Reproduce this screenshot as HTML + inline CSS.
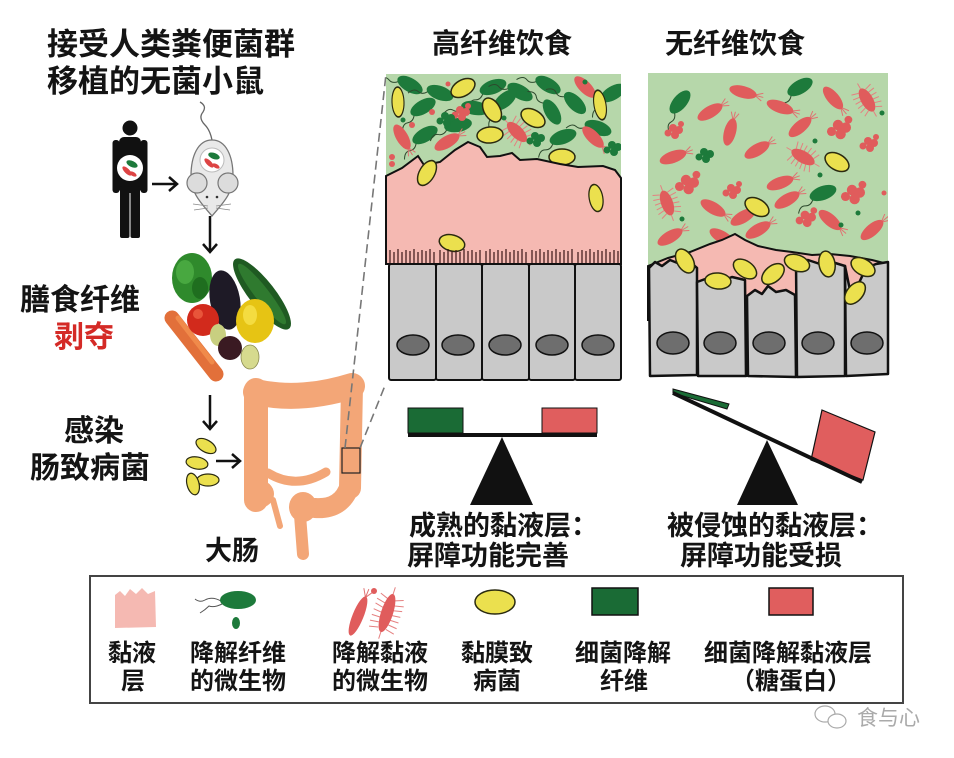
<!DOCTYPE html>
<html><head><meta charset="utf-8">
<style>
html,body{margin:0;padding:0;background:#fff;}
svg{display:block;}
text{font-family:"Liberation Sans","Noto Sans CJK SC",sans-serif;font-weight:bold;fill:#141414;}
</style></head><body>
<svg width="954" height="758" viewBox="0 0 954 758" xmlns="http://www.w3.org/2000/svg">
<defs>
  <g id="gb">
    <path d="M-12 3 q-4 5 -9 3 t-9 5" stroke="#2d4a2d" stroke-width="1" fill="none"/>
    <ellipse cx="0" cy="0" rx="14" ry="7" fill="#1d7a3b"/>
  </g>
  <g id="rb">
    <path d="M12 0 l8 -4 M12 0 l9 0 M12 0 l8 4" stroke="#e07272" stroke-width="1" fill="none"/>
    <ellipse cx="0" cy="0" rx="14" ry="6" fill="#e05c5c"/>
  </g>
  <g id="rc">
    <path d="M-10 -4 l-2 -7 M-6 -5 l-1 -7 M-2 -5 l0 -7 M2 -5 l1 -7 M6 -5 l2 -7 M10 -4 l3 -6 M-10 4 l-2 7 M-6 5 l-1 7 M-2 5 l0 7 M2 5 l1 7 M6 5 l2 7 M10 4 l3 6 M13 0 l6 0 M-13 0 l-6 0" stroke="#e58080" stroke-width="1" fill="none"/>
    <ellipse cx="0" cy="0" rx="13" ry="6" fill="#e05c5c"/>
  </g>
  <g id="yb"><ellipse cx="0" cy="0" rx="13" ry="8" fill="#ebe04e" stroke="#2a2a10" stroke-width="1.5"/></g>
  <g id="rcl"><circle cx="0" cy="0" r="4" fill="#e05c5c"/><circle cx="6" cy="2" r="4" fill="#e05c5c"/><circle cx="2" cy="7" r="4" fill="#e05c5c"/><circle cx="-5" cy="5" r="3.5" fill="#e05c5c"/><circle cx="8" cy="-4" r="3" fill="#e05c5c"/></g>
  <g id="gcl"><circle cx="0" cy="0" r="4" fill="#1d7a3b"/><circle cx="6" cy="2" r="4" fill="#1d7a3b"/><circle cx="2" cy="7" r="4" fill="#1d7a3b"/><circle cx="-5" cy="5" r="3.5" fill="#1d7a3b"/></g>
  <clipPath id="c1"><rect x="386" y="74" width="235" height="190"/></clipPath>
  <clipPath id="c2"><rect x="648" y="73" width="240" height="230"/></clipPath>
</defs>

<!-- Left titles -->
<text x="47" y="55" font-size="31">接受人类粪便菌群</text>
<text x="47" y="92" font-size="31">移植的无菌小鼠</text>

<!-- Human -->
<g fill="#111">
  <circle cx="130" cy="128" r="7.5"/>
  <rect x="119" y="137" width="22" height="56" rx="5"/>
  <rect x="112.5" y="140" width="7" height="53" rx="3"/>
  <rect x="140.5" y="140" width="7" height="53" rx="3"/>
  <rect x="120" y="186" width="9.5" height="52" rx="2"/>
  <rect x="130.5" y="186" width="9.5" height="52" rx="2"/>
</g>
<circle cx="130" cy="168" r="13" fill="#fff"/>
<ellipse cx="132" cy="164" rx="6" ry="3" fill="#1d7a3b" transform="rotate(25 132 164)"/>
<ellipse cx="127" cy="171" rx="6" ry="2.5" fill="#d44" transform="rotate(45 127 171)"/>
<ellipse cx="133" cy="174" rx="4" ry="2" fill="#d44" transform="rotate(30 133 174)"/>

<!-- arrow human -> mouse -->
<line x1="152" y1="184" x2="176" y2="184" stroke="#111" stroke-width="2.5"/>
<polyline points="169,177 177,184 169,191" fill="none" stroke="#111" stroke-width="2.5"/>

<!-- Mouse -->
<path d="M212 140 Q 210 130 205 125 Q 198 118 203 112 Q 207 106 200 102" stroke="#666" stroke-width="1.3" fill="none"/>
<path d="M212 140 C 226 140 233 156 233 176 C 233 194 222 204 212 216 C 202 204 191 194 191 176 C 191 156 198 140 212 140 Z" fill="#e9e9e9" stroke="#777" stroke-width="1.3"/>
<circle cx="197" cy="183" r="10" fill="#dcdcdc" stroke="#777" stroke-width="1.2"/>
<circle cx="228" cy="183" r="10" fill="#dcdcdc" stroke="#777" stroke-width="1.2"/>
<circle cx="212" cy="160" r="12" fill="#fff" stroke="#bbb" stroke-width="1"/>
<ellipse cx="214" cy="156" rx="6" ry="3" fill="#1d7a3b" transform="rotate(20 214 156)"/>
<ellipse cx="209" cy="163" rx="6" ry="2.5" fill="#d44" transform="rotate(45 209 163)"/>
<ellipse cx="216" cy="166" rx="4" ry="2" fill="#d44" transform="rotate(30 216 166)"/>
<circle cx="207" cy="197" r="1.3" fill="#333"/><circle cx="217" cy="197" r="1.3" fill="#333"/>
<path d="M208 206 L193 204 M208 208 L194 210 M216 206 L231 204 M216 208 L230 210" stroke="#888" stroke-width="0.8"/>

<!-- arrow mouse -> veg -->
<line x1="210" y1="216" x2="210" y2="251" stroke="#111" stroke-width="2.5"/>
<polyline points="203,244 210,252 217,244" fill="none" stroke="#111" stroke-width="2.5"/>

<!-- Vegetables -->
<ellipse cx="262" cy="294" rx="44" ry="13" fill="#1f5a22" transform="rotate(52 262 294)"/>
<ellipse cx="262" cy="294" rx="38" ry="7" fill="#2f7a2f" transform="rotate(52 262 294)"/>
<ellipse cx="192" cy="278" rx="20" ry="25" fill="#2f8a2c"/>
<ellipse cx="185" cy="272" rx="9" ry="12" fill="#48a840"/>
<ellipse cx="200" cy="288" rx="8" ry="11" fill="#1f6e1f"/>
<ellipse cx="225" cy="300" rx="15" ry="30" fill="#1e1a26" transform="rotate(-10 225 300)"/>
<ellipse cx="255" cy="321" rx="19" ry="22" fill="#e6c414"/>
<ellipse cx="250" cy="315" rx="7" ry="10" fill="#f4dc40"/>
<line x1="172" y1="318" x2="216" y2="374" stroke="#e2703a" stroke-width="15" stroke-linecap="round"/>
<line x1="178" y1="318" x2="212" y2="362" stroke="#f08a4a" stroke-width="5" stroke-linecap="round"/>
<circle cx="203" cy="320" r="16" fill="#d22a1c"/>
<circle cx="198" cy="314" r="5" fill="#e8553a"/>
<ellipse cx="218" cy="335" rx="8" ry="11" fill="#c8cf80"/>
<circle cx="230" cy="348" r="12" fill="#3a1a22"/>
<ellipse cx="250" cy="357" rx="9" ry="12" fill="#d6da8e" stroke="#8a8a50" stroke-width="0.8"/>

<text x="20" y="310" font-size="30">膳食纤维</text>
<text x="54" y="347" font-size="30" style="fill:#d42a26">剥夺</text>

<!-- arrow veg -> pathogens -->
<line x1="210" y1="395" x2="210" y2="428" stroke="#111" stroke-width="2.5"/>
<polyline points="203,421 210,429 217,421" fill="none" stroke="#111" stroke-width="2.5"/>

<text x="64" y="441" font-size="30">感染</text>
<text x="30" y="478" font-size="30">肠致病菌</text>

<!-- pathogens -->
<g fill="#ebe04e" stroke="#2a2a10" stroke-width="1.2">
  <ellipse cx="206" cy="446" rx="11" ry="6" transform="rotate(30 206 446)"/>
  <ellipse cx="197" cy="463" rx="11" ry="6" transform="rotate(10 197 463)"/>
  <ellipse cx="208" cy="480" rx="11" ry="6"/>
  <ellipse cx="193" cy="484" rx="6" ry="11" transform="rotate(-15 193 484)"/>
</g>
<line x1="216" y1="461" x2="239" y2="461" stroke="#111" stroke-width="2.5"/>
<polyline points="232,454 240,461 232,468" fill="none" stroke="#111" stroke-width="2.5"/>

<!-- Colon -->
<g fill="none" stroke="#f3a677" stroke-linecap="round" stroke-linejoin="round">
  <path d="M256 390 L256 500" stroke-width="24"/>
  <path d="M256 392 Q 300 402 352 386" stroke-width="26"/>
  <path d="M352 386 L350 488" stroke-width="22"/>
  <path d="M350 485 Q 342 510 315 508" stroke-width="20"/>
  <path d="M300 515 L303 554" stroke-width="12"/>
  <path d="M268 473 Q 296 490 326 472" stroke-width="9"/>
  <path d="M273 500 L280 526" stroke-width="6"/>
</g>
<ellipse cx="259" cy="494" rx="15" ry="14" fill="#f3a677"/>
<ellipse cx="303" cy="507" rx="14" ry="15" fill="#f3a677"/>
<rect x="342" y="448" width="18" height="25" fill="none" stroke="#222" stroke-width="1.2"/>
<text x="205" y="560" font-size="27">大肠</text>

<!-- dashed connectors -->
<line x1="345" y1="448" x2="386" y2="74" stroke="#777" stroke-width="1.6" stroke-dasharray="9 5"/>
<line x1="360" y1="448" x2="386" y2="383" stroke="#777" stroke-width="1.6" stroke-dasharray="9 5"/>

<!-- Titles -->
<text x="432" y="53" font-size="28">高纤维饮食</text>
<text x="665" y="53" font-size="28">无纤维饮食</text>

<!-- PANEL 1 : high fiber -->
<rect x="386" y="74" width="235" height="120" fill="#b6d7aa"/>
<g clip-path="url(#c1)">
  <use href="#gb" transform="translate(410 85) rotate(30)"/>
  <use href="#gb" transform="translate(440 93) rotate(20)"/>
  <use href="#gb" transform="translate(493 87) rotate(-20)"/>
  <use href="#gb" transform="translate(520 92) rotate(30)"/>
  <use href="#gb" transform="translate(548 85) rotate(30)"/>
  <use href="#gb" transform="translate(613 93) rotate(-30)"/>
  <use href="#gb" transform="translate(423 107) rotate(-30)"/>
  <use href="#gb" transform="translate(425 135) rotate(-30)"/>
  <use href="#gb" transform="translate(475 108) rotate(10)"/>
  <use href="#gb" transform="translate(552 112) rotate(60)"/>
  <use href="#gb" transform="translate(575 103) rotate(45)"/>
  <use href="#gb" transform="translate(563 137) rotate(-20)"/>
  <use href="#gb" transform="translate(505 100) rotate(-40)"/>
  <use href="#gb" transform="translate(458 125) rotate(-10)"/>
  <use href="#gb" transform="translate(598 128) rotate(20)"/>
  <use href="#rb" transform="translate(402 137) rotate(60)"/>
  <use href="#rb" transform="translate(447 142) rotate(-30)"/>
  <use href="#rc" transform="translate(517 132) rotate(45)"/>
  <use href="#rb" transform="translate(585 87) rotate(45)"/>
  <use href="#rb" transform="translate(593 137) rotate(45)"/>
  <use href="#rcl" transform="translate(460 110)"/>
  <circle cx="432" cy="112" r="3" fill="#e05c5c"/>
  <circle cx="412" cy="125" r="3" fill="#e05c5c"/>
  <circle cx="392" cy="157" r="3" fill="#e05c5c"/>
  <circle cx="392" cy="164" r="3" fill="#e05c5c"/>
  <circle cx="448" cy="84" r="2.5" fill="#e05c5c"/>
  <use href="#gcl" transform="translate(445 116)"/>
  <use href="#gcl" transform="translate(535 136)"/>
  <use href="#gcl" transform="translate(612 145)"/>
  <circle cx="403" cy="120" r="2.5" fill="#1d7a3b"/>
  <circle cx="585" cy="82" r="2.5" fill="#1d7a3b"/>
  <circle cx="504" cy="118" r="2.5" fill="#1d7a3b"/>
  <use href="#yb" transform="translate(398 102) rotate(88) scale(1.15 0.75)"/>
  <use href="#yb" transform="translate(463 88) rotate(-30)"/>
  <use href="#yb" transform="translate(492 110) rotate(60)"/>
  <use href="#yb" transform="translate(533 118) rotate(30)"/>
  <use href="#yb" transform="translate(490 135) rotate(-5)"/>
  <use href="#yb" transform="translate(562 157)"/>
  <use href="#yb" transform="translate(600 105) rotate(80) scale(1.15 0.75)"/>
</g>
<path d="M386 176 L402 168 L418 156 L424 165 L440 162 L455 150 L468 142 L480 147 L487 157 L500 156 L512 153 L520 160 L537 159 L560 164 L578 167 L603 166 L615 170 L621 178 L621 264 L386 264 Z" fill="#f5b9b2" stroke="#111" stroke-width="2"/>
<use href="#yb" transform="translate(427 173) rotate(-60) scale(1.05 0.95)"/>
<use href="#yb" transform="translate(596 198) rotate(80) scale(1.05 0.85)"/>
<use href="#yb" transform="translate(452 243) rotate(15)"/>
<g stroke="#3a1616" stroke-width="1.2">
  <path d="M390 264 V250 M394 264 V252 M398 264 V249 M402 264 V252 M406 264 V250 M410 264 V251 M414 264 V249 M418 264 V252 M422 264 V250 M426 264 V251 M430 264 V249 M434 264 V252 M440 264 V250 M444 264 V252 M448 264 V249 M452 264 V251 M456 264 V250 M460 264 V252 M464 264 V249 M468 264 V251 M472 264 V250 M476 264 V252 M480 264 V250 M486 264 V251 M490 264 V249 M494 264 V252 M498 264 V250 M502 264 V251 M506 264 V249 M510 264 V252 M514 264 V250 M518 264 V251 M522 264 V249 M526 264 V252 M532 264 V250 M536 264 V251 M540 264 V249 M544 264 V252 M548 264 V250 M552 264 V251 M556 264 V249 M560 264 V252 M564 264 V250 M568 264 V251 M572 264 V249 M578 264 V252 M582 264 V250 M586 264 V251 M590 264 V249 M594 264 V252 M598 264 V250 M602 264 V251 M606 264 V249 M610 264 V252 M614 264 V250 M618 264 V251"/>
</g>
<g fill="#c9c9c9" stroke="#111" stroke-width="2">
  <rect x="389" y="264" width="47" height="116" rx="2"/>
  <rect x="436" y="264" width="46" height="116" rx="2"/>
  <rect x="482" y="264" width="47" height="116" rx="2"/>
  <rect x="529" y="264" width="46" height="116" rx="2"/>
  <rect x="575" y="264" width="46" height="116" rx="2"/>
</g>
<g fill="#6e6e6e" stroke="#111" stroke-width="1.5">
  <ellipse cx="413" cy="345" rx="16" ry="10"/>
  <ellipse cx="458" cy="345" rx="16" ry="10"/>
  <ellipse cx="505" cy="345" rx="16" ry="10"/>
  <ellipse cx="552" cy="345" rx="16" ry="10"/>
  <ellipse cx="598" cy="345" rx="16" ry="10"/>
</g>

<!-- PANEL 2 : no fiber -->
<rect x="648" y="73" width="240" height="200" fill="#b6d7aa"/>
<g clip-path="url(#c2)">
  <use href="#gb" transform="translate(680 102) rotate(-50)"/>
  <use href="#gb" transform="translate(800 87) rotate(-30)"/>
  <use href="#gb" transform="translate(823 193) rotate(-20)"/>
  <use href="#rb" transform="translate(743 92) rotate(15)"/>
  <use href="#rb" transform="translate(780 107) rotate(20)"/>
  <use href="#rb" transform="translate(833 98) rotate(50)"/>
  <use href="#rc" transform="translate(867 100) rotate(60)"/>
  <use href="#rb" transform="translate(710 112) rotate(-30)"/>
  <use href="#rb" transform="translate(730 132) rotate(-75)"/>
  <use href="#rb" transform="translate(800 127) rotate(-40)"/>
  <use href="#rb" transform="translate(673 157) rotate(-20)"/>
  <use href="#rb" transform="translate(757 150) rotate(-30)"/>
  <use href="#rc" transform="translate(803 157) rotate(30)"/>
  <use href="#rb" transform="translate(780 183) rotate(-20)"/>
  <use href="#rc" transform="translate(667 203) rotate(70)"/>
  <use href="#rb" transform="translate(713 208) rotate(30)"/>
  <use href="#rb" transform="translate(787 200) rotate(-30)"/>
  <use href="#rb" transform="translate(743 217) rotate(-30)"/>
  <use href="#rb" transform="translate(830 220) rotate(40)"/>
  <use href="#rb" transform="translate(670 237) rotate(-30)"/>
  <use href="#rb" transform="translate(722 237) rotate(30)"/>
  <use href="#rb" transform="translate(758 230) rotate(-30)"/>
  <use href="#rb" transform="translate(872 230) rotate(-40)"/>
  <use href="#rcl" transform="translate(673 128)"/>
  <use href="#rcl" transform="translate(686 180) scale(1.3)"/>
  <use href="#rcl" transform="translate(838 125) scale(1.3)"/>
  <use href="#rcl" transform="translate(852 190) scale(1.3)"/>
  <use href="#rcl" transform="translate(805 215) scale(1.1)"/>
  <use href="#rcl" transform="translate(868 141)"/>
  <use href="#rcl" transform="translate(731 188)"/>
  <use href="#gcl" transform="translate(704 152)"/>
  <circle cx="815" cy="141" r="2.5" fill="#1d7a3b"/>
  <circle cx="882" cy="113" r="2.5" fill="#1d7a3b"/>
  <circle cx="858" cy="213" r="2.5" fill="#1d7a3b"/>
  <circle cx="841" cy="225" r="2.5" fill="#1d7a3b"/>
  <circle cx="682" cy="219" r="2.5" fill="#1d7a3b"/>
  <circle cx="820" cy="175" r="2.5" fill="#1d7a3b"/>
  <circle cx="884" cy="193" r="2.5" fill="#e05c5c"/>
  <use href="#yb" transform="translate(837 162) rotate(30)"/>
  <use href="#yb" transform="translate(757 207) rotate(30)"/>
</g>
<!-- pink eroded mucus -->
<path d="M648 266 L668 258 L690 252 L710 244 L722 240 L735 234 L745 240 L758 246 L776 250 L792 252 L812 255 L830 254 L850 256 L872 260 L888 264 L888 320 L648 320 Z" fill="#f5b9b2" stroke="#111" stroke-width="2"/>
<!-- cells -->
<g fill="#c9c9c9" stroke="#111" stroke-width="2.5" stroke-linejoin="round">
  <path d="M649 268 L655 262 L662 266 L670 260 L680 264 L690 262 L697 268 L697 375 L650 376 Z"/>
  <path d="M697 282 L708 278 L720 282 L732 277 L745 280 L746 376 L698 376 Z"/>
  <path d="M747 296 L755 290 L762 294 L768 286 L776 292 L786 290 L795 295 L796 377 L748 376 Z"/>
  <path d="M796 262 L808 260 L820 264 L832 262 L845 266 L845 376 L797 377 Z"/>
  <path d="M845 266 L852 300 L858 285 L866 268 L876 264 L888 262 L888 374 L846 376 Z"/>
</g>
<g fill="#6e6e6e" stroke="#111" stroke-width="1.5">
  <ellipse cx="673" cy="343" rx="16" ry="11"/>
  <ellipse cx="720" cy="343" rx="16" ry="11"/>
  <ellipse cx="769" cy="343" rx="16" ry="11"/>
  <ellipse cx="818" cy="343" rx="16" ry="11"/>
  <ellipse cx="867" cy="343" rx="16" ry="11"/>
</g>
<use href="#yb" transform="translate(685 261) rotate(60)"/>
<use href="#yb" transform="translate(718 281) rotate(5)"/>
<use href="#yb" transform="translate(745 269) rotate(35)"/>
<use href="#yb" transform="translate(773 274) rotate(-40)"/>
<use href="#yb" transform="translate(797 263) rotate(20)"/>
<use href="#yb" transform="translate(827 264) rotate(80)"/>
<use href="#yb" transform="translate(863 267) rotate(30)"/>
<use href="#yb" transform="translate(855 293) rotate(-50)"/>

<!-- Balance 1 -->
<rect x="408" y="408" width="55" height="25" fill="#1a6b35" stroke="#111" stroke-width="1"/>
<rect x="542" y="408" width="55" height="25" fill="#e05e5e" stroke="#111" stroke-width="1"/>
<rect x="408" y="433" width="189" height="4" fill="#111"/>
<polygon points="502,437 470,505 533,505" fill="#111"/>
<text x="409" y="535" font-size="27">成熟的黏液层：</text>
<text x="407" y="565" font-size="27">屏障功能完善</text>

<!-- Balance 2 -->
<polygon points="673,389 729,404 727,409 673,393" fill="#1a6b35" stroke="#111" stroke-width="1"/>
<polygon points="822,410 875,432 863,480 811,460" fill="#e05e5e" stroke="#111" stroke-width="1.2"/>
<line x1="673" y1="393" x2="862" y2="482" stroke="#111" stroke-width="4"/>
<polygon points="767,440 737,505 798,505" fill="#111"/>
<text x="667" y="535" font-size="27">被侵蚀的黏液层：</text>
<text x="680" y="565" font-size="27">屏障功能受损</text>

<!-- Legend -->
<rect x="90" y="576" width="813" height="127" fill="#fff" stroke="#444" stroke-width="2"/>
<path d="M115 595 L120 591 L125 596 L130 589 L136 594 L142 588 L148 594 L155 591 L156 627 L115 628 Z" fill="#f5b9b2"/>
<path d="M221 601 Q212 596 205 600 Q200 603 195 599 M222 604 Q214 608 209 606 Q205 610 200 613" stroke="#555" stroke-width="1" fill="none"/>
<ellipse cx="238" cy="600" rx="18" ry="9" fill="#1d7a3b"/>
<ellipse cx="236" cy="623" rx="4" ry="6" fill="#1d7a3b"/>
<g transform="translate(358 616) rotate(-68)">
  <path d="M20 0 l8 -5 M20 0 l9 0 M20 0 l8 5" stroke="#e07272" stroke-width="1" fill="none"/>
  <ellipse rx="21" ry="5.5" fill="#e05c5c"/>
</g>
<g transform="translate(387 613) rotate(-72)">
  <path d="M-16 -4 l-2 -9 M-11 -5 l-1 -9 M-6 -5 l0 -9 M-1 -5 l1 -9 M4 -5 l2 -9 M9 -5 l2 -9 M14 -4 l3 -8 M-16 4 l-2 9 M-11 5 l-1 9 M-6 5 l0 9 M-1 5 l1 9 M4 5 l2 9 M9 5 l2 9 M14 4 l3 8 M20 0 l7 0 M-20 0 l-7 0" stroke="#e58080" stroke-width="1" fill="none"/>
  <ellipse rx="20" ry="6" fill="#e05c5c"/>
</g>
<circle cx="374" cy="591" r="3" fill="#e05c5c"/>
<ellipse cx="495" cy="602" rx="20" ry="12" fill="#ebe04e" stroke="#2a2a10" stroke-width="1.5"/>
<rect x="592" y="588" width="46" height="27" fill="#1a6b35" stroke="#111" stroke-width="1.5"/>
<rect x="769" y="588" width="44" height="27" fill="#e05e5e" stroke="#111" stroke-width="1.5"/>

<g font-size="24">
  <text x="108" y="661">黏液</text>
  <text x="133" y="689" text-anchor="middle">层</text>
  <text x="190" y="661">降解纤维</text>
  <text x="190" y="689">的微生物</text>
  <text x="332" y="661">降解黏液</text>
  <text x="332" y="689">的微生物</text>
  <text x="461" y="661">黏膜致</text>
  <text x="497" y="689" text-anchor="middle">病菌</text>
  <text x="575" y="661">细菌降解</text>
  <text x="624" y="689" text-anchor="middle">纤维</text>
  <text x="704" y="661">细菌降解黏液层</text>
  <text x="791" y="689" text-anchor="middle">（糖蛋白）</text>
</g>

<!-- watermark -->
<g fill="none" stroke="#aaa" stroke-width="1.2">
  <ellipse cx="825" cy="714" rx="10" ry="8"/>
  <ellipse cx="837" cy="721" rx="9" ry="7" fill="#fff"/>
</g>
<text x="857" y="725" font-size="21" style="fill:#aaa;font-weight:normal">食与心</text>
</svg>
</body></html>
